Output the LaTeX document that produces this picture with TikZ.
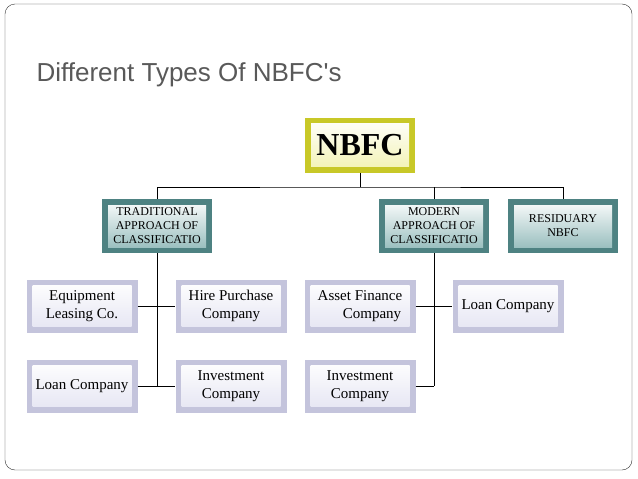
\documentclass[tikz,border=0pt]{standalone}
\usepackage{fontspec}
\setmainfont{Liberation Serif}
\newfontfamily\titlefont{Liberation Sans}
\definecolor{lavrim}{HTML}{C4C4DC}
\definecolor{lavin}{HTML}{E4E4F2}
\definecolor{tealrim}{HTML}{4E8282}
\definecolor{tealin}{HTML}{8FB8B8}
\definecolor{yelrim}{HTML}{C8C828}
\definecolor{yelin}{HTML}{F2F2B0}
\tikzset{
  bev/.style n args={2}{draw=none, fill=#1, inner sep=0pt, align=center,
    path picture={\shade[top color=white, bottom color=#2]
      ([xshift=6pt,yshift=-6pt]path picture bounding box.north west) rectangle
      ([xshift=-6pt,yshift=6pt]path picture bounding box.south east);}},
  sub/.style={bev={lavrim}{lavin}, minimum width=111pt, minimum height=53pt, font=\fontsize{15}{18}\selectfont},
  cls/.style={bev={tealrim}{tealin}, minimum width=110pt, minimum height=54pt, font=\fontsize{12}{14}\selectfont},
  link/.style={black, line width=1pt}
}
\begin{document}
\begin{tikzpicture}[x=1pt,y=-1pt]
		% slide frame
		\fill[white] (0,0) rectangle (638,479);
		\draw[black!80, rounded corners=10pt] (5,4) rectangle (632,470);
		\node[anchor=west, font=\titlefont\fontsize{26}{30}\selectfont, text=black!65] (title) at (33,75) {Different Types Of NBFC's};
		% top node
		\node[bev={yelrim}{yelin}, minimum width=110pt, minimum height=55pt, font=\bfseries\fontsize{32}{36}\selectfont] (nbfc) at (360,145) {NBFC};
		% classifications
		\node[cls] (trad) at (157,226) {TRADITIONAL\\APPROACH OF\\CLASSIFICATIO};
		\node[cls] (mod) at (434,226) {MODERN\\APPROACH OF\\CLASSIFICATIO};
		\node[cls] (res) at (563,226) {RESIDUARY\\NBFC};
		% companies
		\node[sub] (equip) at (82,306) {Equipment\\Leasing Co.};
		\node[sub] (hire) at (231,306) {Hire Purchase\\Company};
		\node[sub] (loanA) at (82,386) {Loan Company};
		\node[sub] (invA) at (231,386) {Investment\\Company};
		\node[sub] (asset) at (360,306) {Asset Finance\\\hspace*{24pt}Company};
		\node[sub] (loanB) at (508,306) {Loan Company};
		\node[sub] (invB) at (360,386) {Investment\\Company};
		% connectors
		\coordinate (bus) at (360,187);
		\draw[link] (nbfc.south) -- (bus);
		\draw[link] (trad.north) |- (bus) -| (res.north);
		\draw[link] (mod.north) -- (mod.north |- bus);
		\coordinate (tradend) at (157,386);
		\coordinate (modend) at (434,386);
		\draw[link] (trad.south) -- (tradend);
		\draw[link] (mod.south) -- (modend);
		\draw[link] (equip.east) -- (hire.west);
		\draw[link] (loanA.east) -- (invA.west);
		\draw[link] (asset.east) -- (loanB.west);
		\draw[link] (invB.east) -- (modend);
	\end{tikzpicture}
\end{document}
